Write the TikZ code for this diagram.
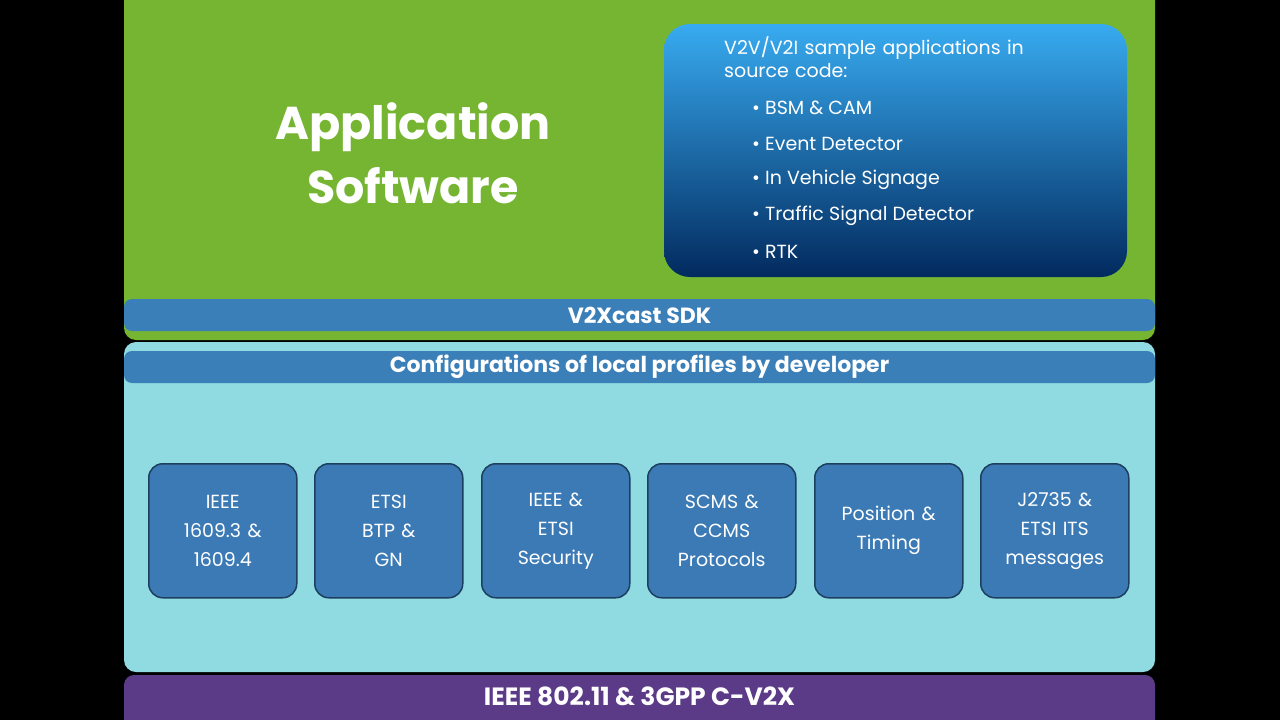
\documentclass[tikz,border=0pt]{standalone}
\usepackage{fontspec}
\setmainfont{Poppins}
\begin{document}
\begin{tikzpicture}[x=1pt,y=-1pt,
  band/.style={fill=barblue,text=white,font=\bfseries\fontsize{22}{24}\selectfont},
  mod/.style={draw=modborder,line width=1.5pt,fill=modblue,rounded corners=14pt,minimum width=148pt,minimum height=134pt,text width=130pt,align=center,text=white,font=\fontsize{19}{29}\selectfont,anchor=north west}]
\definecolor{appgreen}{HTML}{76B532}
\definecolor{barblue}{HTML}{3A7FB8}
\definecolor{cyanbg}{HTML}{90DAE2}
\definecolor{modblue}{HTML}{3B7AB5}
\definecolor{modborder}{HTML}{1D3F5E}
\definecolor{purp}{HTML}{5B3A88}
\definecolor{gtop}{HTML}{38ABF0}
\definecolor{gbot}{HTML}{022A5E}
\fill[black] (0,0) rectangle (1280,720);
\useasboundingbox (0,0) rectangle (1280,720);
\fill[appgreen,rounded corners=12pt] (124,-15) rectangle (1155,340);
\fill[cyanbg,rounded corners=12pt] (124,342) rectangle (1155,672);
\shade[top color=gtop,bottom color=gbot,rounded corners=26pt] (664,24) rectangle (1127,277);
\node[text=white,font=\bfseries\fontsize{46}{64}\selectfont,align=center] (title) at (413,153) {Application\\Software};
\node[text=white,anchor=north west,align=left,font=\fontsize{19}{23}\selectfont,text width=360pt,inner sep=0pt] (apps) at (724,36) {V2V/V2I sample applications in\\source code:};
\foreach \t [count=\i] in {BSM \& CAM,Event Detector,In Vehicle Signage,Traffic Signal Detector,RTK}
  \node[text=white,anchor=west,inner sep=0pt,font=\fontsize{19}{23}\selectfont] (b\i) at (752,72+36*\i) {\textbullet\ \t};
\node[band,rounded corners=8pt,minimum width=1031pt,minimum height=32pt,inner sep=0pt] (sdk) at (639.5,315) {V2Xcast SDK};
\node[band,rounded corners=8pt,minimum width=1031pt,minimum height=32pt,inner sep=0pt] (cfg) at (639.5,367) {Configurations of local profiles by developer};
\node[mod] (m1) at (148,463) {IEEE\\1609.3 \&\\1609.4};
\node[mod] (m2) at (314,463) {ETSI\\BTP \&\\GN};
\node[mod] (m3) at (481,463) {IEEE \&\\ETSI\\Security};
\node[mod] (m4) at (647,463) {SCMS \&\\CCMS\\Protocols};
\node[mod] (m5) at (814,463) {Position \&\\Timing};
\node[mod] (m6) at (980,463) {J2735 \&\\ETSI ITS\\messages};
\fill[purp,rounded corners=10pt] (124,675) rectangle (1155,735);
\node[text=white,font=\bfseries\fontsize{25}{28}\selectfont] (phy) at (639.5,696) {IEEE 802.11 \& 3GPP C-V2X};
\end{tikzpicture}
\end{document}
